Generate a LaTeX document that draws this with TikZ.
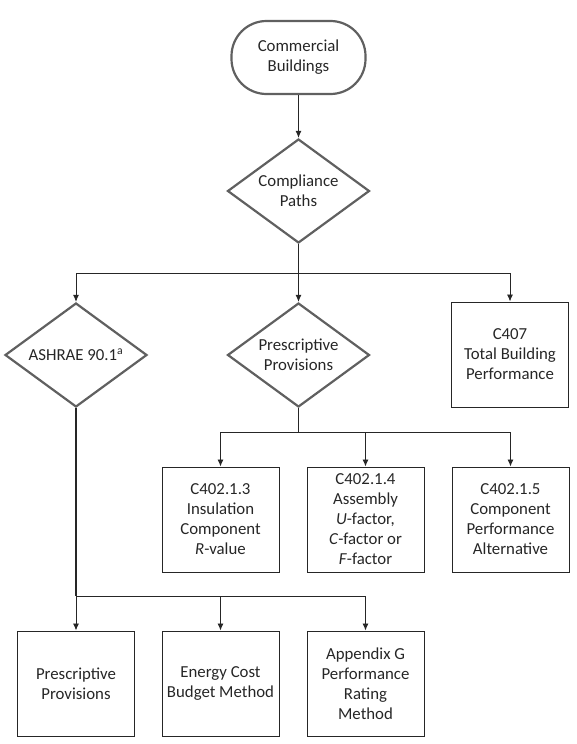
\documentclass[tikz,border=0pt]{standalone}
\usepackage{fontspec}
\setmainfont{Carlito}
\usetikzlibrary{shapes.geometric,arrows.meta}
\definecolor{bord}{HTML}{606060}
\definecolor{ink}{HTML}{262626}
\tikzset{
  x=1pt,y=1pt,
  lbl/.style={font=\fontsize{16.8}{20}\selectfont, text=ink, align=center},
  term/.style={lbl, draw=bord, line width=2.2pt, rounded corners=35pt, minimum width=134pt, minimum height=73pt, inner sep=0pt},
  dia/.style={lbl, shape=diamond, draw=bord, line width=2.2pt, minimum width=142pt, minimum height=104pt, aspect=1.36, inner sep=0pt},
  box/.style={lbl, draw=ink, line width=1pt, minimum width=117pt, minimum height=105pt, inner sep=0pt},
  conn/.style={draw=ink, line width=0.9pt},
  arr/.style={conn, -{Latex[length=7pt,width=6pt]}},
  trunk/.style={draw=ink, line width=1.8pt}
}
\begin{document}
\begin{tikzpicture}
\useasboundingbox (0,0) rectangle (576,-744);
\node[term] (cb) at (298.5,-57.5) {Commercial\\Buildings};
\node[dia] (cp) at (298.5,-191) {Compliance\\Paths};
\node[dia] (ash) at (76,-355) {ASHRAE 90.1\textsuperscript{a}};
\node[dia] (pp) at (298.5,-355) {Prescriptive\\Provisions};
\node[box] (tbp) at (510,-354.5) {C407\\Total Building\\Performance};
\node[box] (c3) at (220.5,-519.5) {C402.1.3\\Insulation\\Component\\\textit{R}-value};
\node[box] (c4) at (365.5,-519.5) {C402.1.4\\Assembly\\\textit{U}-factor,\\\textit{C}-factor or\\\textit{F}-factor};
\node[box] (c5) at (510.5,-519.5) {C402.1.5\\Component\\Performance\\Alternative};
\node[box] (ap) at (76,-683.5) {Prescriptive\\Provisions};
\node[box] (ae) at (220.5,-683.5) {Energy Cost\\Budget Method};
\node[box] (ag) at (365.5,-683.5) {Appendix G\\Performance\\Rating\\Method};
\coordinate (j1) at (298.5,-273);
\coordinate (j2) at (298.5,-432);
\coordinate (j3) at (76,-596);
\draw[arr] (cb.south) -- (cp.north);
\draw[trunk] (cp.south) -- (j1);
\draw[arr] (j1) -| (ash.north);
\draw[arr] (j1) -| (tbp.north);
\draw[arr] (j1) -- (pp.north);
\draw[trunk] (pp.south) -- (j2);
\draw[arr] (j2) -| (c3.north);
\draw[arr] (j2) -| (c4.north);
\draw[arr] (j2) -| (c5.north);
\draw[trunk] (ash.south) -- (j3);
\draw[arr] (j3) -- (ap.north);
\draw[arr] (j3) -| (ae.north);
\draw[arr] (j3) -| (ag.north);
\end{tikzpicture}
\end{document}
